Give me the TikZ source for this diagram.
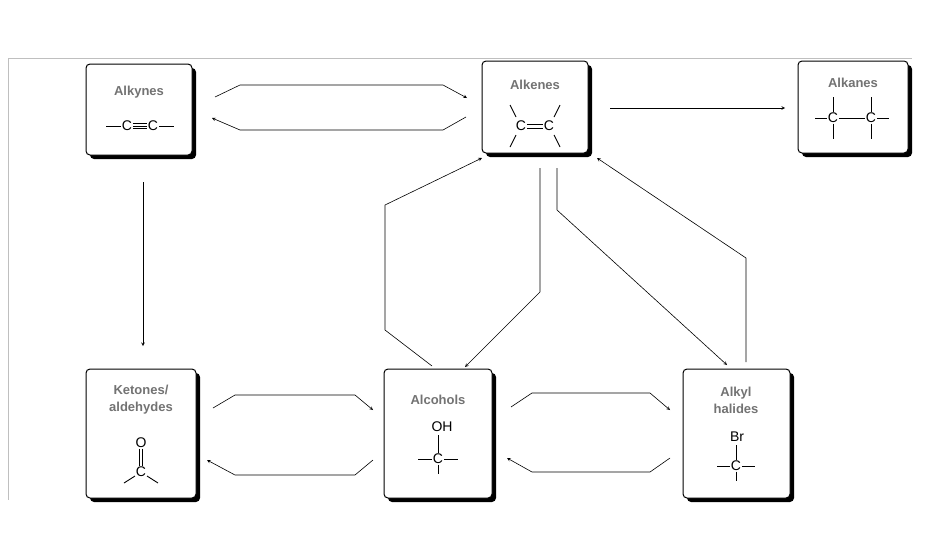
\documentclass[tikz,border=0pt]{standalone}
\usepackage{fontspec}
\setmainfont{Liberation Sans}
\usetikzlibrary{shadows}
\begin{document}
\begin{tikzpicture}[x=1pt,y=-1pt,
  box/.style={draw=black,line width=1pt,fill=white,rounded corners=4pt,inner sep=0pt,
    drop shadow={shadow xshift=4pt,shadow yshift=-4pt,fill=black,opacity=1}},
  ttl/.style={font=\bfseries\fontsize{13}{17}\selectfont,text=black!55,align=center},
  atm/.style={font=\fontsize{14}{14}\selectfont,inner sep=0.5pt},
  bd/.style={line width=0.9pt},
  con/.style={line width=0.6pt,->,>={stealth},shorten >=0pt}]
\useasboundingbox (0,0) rectangle (928,555);
\fill[white] (0,0) rectangle (928,555);
\draw[black!25,line width=0.8pt] (8,58) -- (912,58);
\draw[black!25,line width=0.8pt] (8,58) -- (8,500);
% boxes
\node[box,minimum width=106,minimum height=91] (alkynes) at (139,109.5) {};
\node[box,minimum width=106,minimum height=92] (alkenes) at (535,107) {};
\node[box,minimum width=110,minimum height=92] (alkanes) at (853,107) {};
\node[box,minimum width=110,minimum height=129] (ketones) at (141,433.5) {};
\node[box,minimum width=108,minimum height=129] (alcohols) at (438,433.5) {};
\node[box,minimum width=107,minimum height=129] (halides) at (736.5,433.5) {};
% titles
\node[ttl] (t1) at (139,92) {Alkynes};
\node[ttl] (t2) at (535,85) {Alkenes};
\node[ttl] (t3) at (853,83) {Alkanes};
\node[ttl] (t4) at (141,400) {Ketones/\\aldehydes};
\node[ttl] (t5) at (438,400) {Alcohols};
\node[ttl] (t6) at (736,400) {Alkyl\\halides};
% alkyne
\node[atm] (y1) at (127,126) {C};
\node[atm] (y2) at (153,126) {C};
\draw[bd] (106,126) -- (y1.west);
\draw[bd] (y2.east) -- (174,126);
\foreach \d in {-2.6,0,2.6} \draw[bd] ([yshift=\d]y1.east) -- ([yshift=\d]y2.west);
% alkene
\node[atm] (e1) at (521,126) {C};
\node[atm] (e2) at (549,126) {C};
\draw[bd] (516,117) -- (510,105);
\draw[bd] (516,135) -- (510,147);
\draw[bd] (554,117) -- (560,105);
\draw[bd] (554,135) -- (560,147);
\draw[bd] ([yshift=-2]e1.east) -- ([yshift=-2]e2.west);
\draw[bd] ([yshift=2]e1.east) -- ([yshift=2]e2.west);
% alkane
\node[atm] (a1) at (833,118) {C};
\node[atm] (a2) at (871,118) {C};
\draw[bd] (815,118) -- (a1.west);
\draw[bd] (a1.east) -- (a2.west);
\draw[bd] (a2.east) -- (889,118);
\draw[bd] (a1.north) -- (833,97); \draw[bd] (a1.south) -- (833,139);
\draw[bd] (a2.north) -- (871,97); \draw[bd] (a2.south) -- (871,139);
% ketone
\node[atm] (k1) at (141,443) {O};
\node[atm] (k2) at (141,472) {C};
\draw[bd] ([xshift=-1.8]k1.south) -- ([xshift=-1.8]k2.north);
\draw[bd] ([xshift=1.8]k1.south) -- ([xshift=1.8]k2.north);
\draw[bd] (135,476) -- (124,483);
\draw[bd] (147,476) -- (158,483);
% alcohol
\node[atm] (o1) at (442,427) {OH};
\node[atm] (o2) at (438,459) {C};
\draw[bd] (438,435) -- (o2.north);
\draw[bd] (o2.south) -- (438,474);
\draw[bd] (418,459) -- (o2.west);
\draw[bd] (o2.east) -- (458,459);
% alkyl halide
\node[atm] (h1) at (737,437) {Br};
\node[atm] (h2) at (736,466) {C};
\draw[bd] (736,445) -- (h2.north);
\draw[bd] (h2.south) -- (736,481);
\draw[bd] (717,466) -- (h2.west);
\draw[bd] (h2.east) -- (755,466);
% connectors
\draw[con] (215,97) -- (240,85) -- (443,85) -- (467,98);
\draw[con] (466,117) -- (443,130) -- (240,130) -- (212,118);
\draw[con] (610,108) -- (785,108);
\draw[con] (143,182) -- (143,346);
\draw[con] (432,366) -- (385,330) -- (385,205) -- (482,158);
\draw[con] (540,168) -- (540,292) -- (465,367);
\draw[con] (557,168) -- (557,210) -- (727,365);
\draw[con] (746,362) -- (746,258) -- (597,158);
\draw[con] (213,408) -- (235,395) -- (355,395) -- (373,410);
\draw[con] (373,460) -- (355,475) -- (235,475) -- (207,460);
\draw[con] (511,407) -- (532,393) -- (650,393) -- (670,410);
\draw[con] (670,458) -- (650,472) -- (532,472) -- (507,458);
\end{tikzpicture}
\end{document}
